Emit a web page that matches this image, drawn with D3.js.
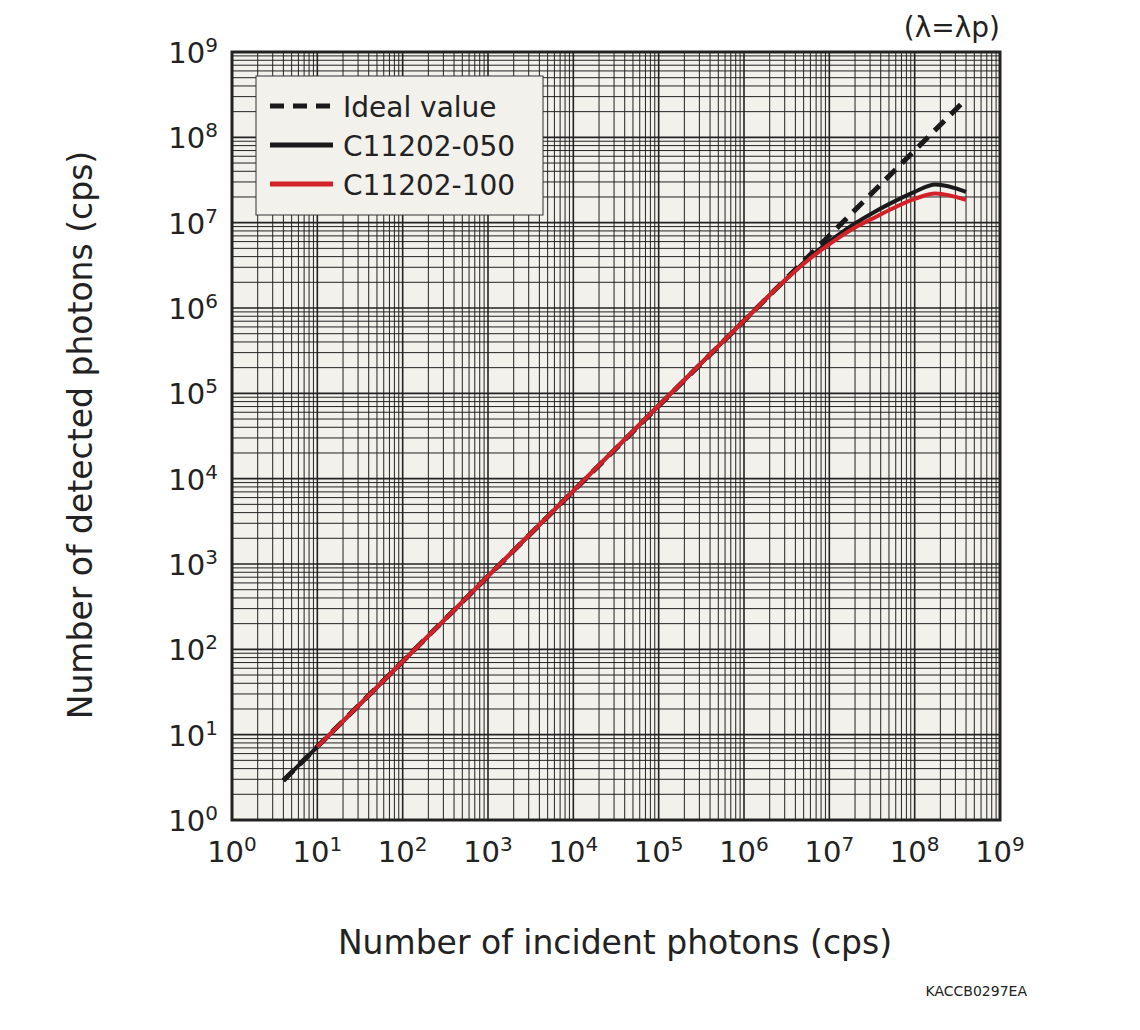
<!DOCTYPE html><html><head><meta charset="utf-8"><script src="https://cdn.jsdelivr.net/npm/d3@7"></script>
<style>body{margin:0;background:#fff}svg text{font-family:"DejaVu Sans",sans-serif;fill:#222}</style></head><body><svg id="c" width="1140" height="1030"></svg><script>
const idealX=[4,4e8];
const idealY=[2.9,2.8e8];
const c050X=[4,10,1e2,1e3,1e4,1e5,1e6,3e6,5e6,1e7,2e7,3e7,5e7,1e8,1.75e8,4e8];
const c050Y=[2.9,7.2,72,720,7200,7.2e4,7.1e5,2.1e6,3.4e6,6e6,9.8e6,1.25e7,1.65e7,2.3e7,2.8e7,2.3e7];
const c100X=[10,1e2,1e3,1e4,1e5,1e6,3e6,5e6,1e7,2e7,3e7,5e7,1e8,1.75e8,4e8];
const c100Y=[7.2,72,720,7200,7.2e4,7.1e5,2.1e6,3.3e6,5.6e6,8.8e6,1.08e7,1.4e7,1.9e7,2.2e7,1.85e7];
const decades=d3.range(0,10);
const svg=d3.select("#c");
const x=d3.scaleLog().domain([1,1e9]).range([232,1000]);
const y=d3.scaleLog().domain([1,1e9]).range([820,52]);
svg.append("rect").attr("x",232).attr("y",52).attr("width",768).attr("height",768).attr("fill","#f3f1ec");
const minors=[];decades.slice(0,9).forEach(d=>{for(let k=1;k<10;k++)minors.push(k*Math.pow(10,d));});
const g=svg.append("g").attr("stroke","#222");
minors.forEach(v=>{const major=Math.abs(Math.log10(v)%1)<1e-9;
g.append("line").attr("x1",x(v)).attr("x2",x(v)).attr("y1",52).attr("y2",820).attr("stroke-width",major?1.6:1);
g.append("line").attr("y1",y(v)).attr("y2",y(v)).attr("x1",232).attr("x2",1000).attr("stroke-width",major?1.6:1);});
svg.append("rect").attr("x",232).attr("y",52).attr("width",768).attr("height",768).attr("fill","none").attr("stroke","#222").attr("stroke-width",3);
decades.forEach(d=>{const v=Math.pow(10,d);
const t=svg.append("text").attr("x",x(v)).attr("y",862).attr("text-anchor","middle").attr("font-size",29);t.append("tspan").text("10");t.append("tspan").attr("dy",-11).attr("font-size",20).text(d);
const u=svg.append("text").attr("x",218).attr("y",y(v)+11).attr("text-anchor","end").attr("font-size",29);u.append("tspan").text("10");u.append("tspan").attr("dy",-11).attr("font-size",20).text(d);});
const line=d3.line().x(d=>x(d[0])).y(d=>y(d[1])).curve(d3.curveMonotoneX);
svg.append("path").attr("d",line(idealX.map((v,i)=>[v,idealY[i]]))).attr("fill","none").attr("stroke","#1a1a1a").attr("stroke-width",5).attr("stroke-dasharray","14,9");
svg.append("path").attr("d",line(c050X.map((v,i)=>[v,c050Y[i]]))).attr("fill","none").attr("stroke","#1a1a1a").attr("stroke-width",4);
svg.append("path").attr("d",line(c100X.map((v,i)=>[v,c100Y[i]]))).attr("fill","none").attr("stroke","#d42027").attr("stroke-width",4);
svg.append("rect").attr("x",256).attr("y",76).attr("width",287).attr("height",139).attr("fill","#f3f1ec").attr("stroke","#333").attr("stroke-width",1);
const leg=[["Ideal value","#1a1a1a","14,9"],["C11202-050","#1a1a1a",null],["C11202-100","#d42027",null]];
leg.forEach((l,i)=>{const yy=106+i*39;
svg.append("line").attr("x1",270).attr("x2",333).attr("y1",yy).attr("y2",yy).attr("stroke",l[1]).attr("stroke-width",5).attr("stroke-dasharray",l[2]);
svg.append("text").attr("x",343).attr("y",yy+11).attr("font-size",28).text(l[0]);});
svg.append("text").attr("x",1000).attr("y",37).attr("text-anchor","end").attr("font-size",28).text("(λ=λp)");
svg.append("text").attr("x",615).attr("y",954).attr("text-anchor","middle").attr("font-size",33).text("Number of incident photons (cps)");
svg.append("text").attr("transform","translate(92,435) rotate(-90)").attr("text-anchor","middle").attr("font-size",33).text("Number of detected photons (cps)");
svg.append("text").attr("x",1027).attr("y",996).attr("text-anchor","end").attr("font-size",14).text("KACCB0297EA");
</script></body></html>
